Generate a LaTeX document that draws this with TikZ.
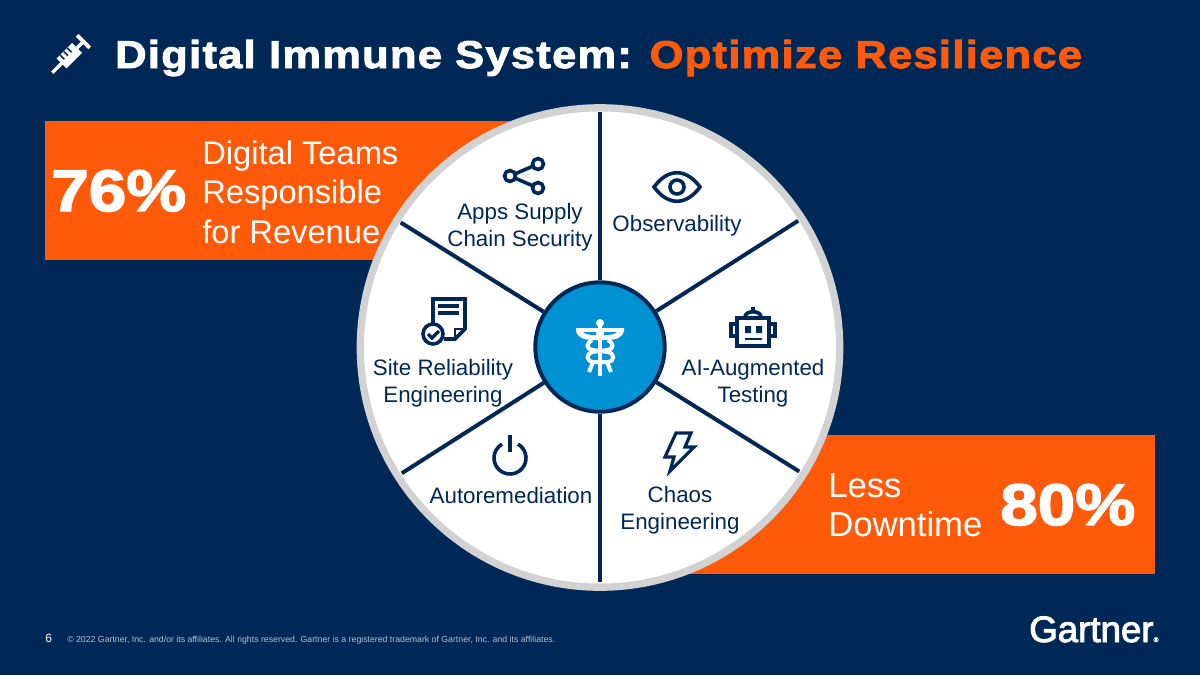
\documentclass[tikz,border=0pt]{standalone}
\usepackage{fontspec}
\usepackage{xcolor}
\setmainfont{Liberation Sans}
\newfontfamily\titlefont[LetterSpace=3.5,BoldFeatures={FakeBold=2.5,FakeStretch=1.12}]{Liberation Sans}
\newfontfamily\statfont[BoldFeatures={FakeBold=2.5,FakeStretch=1.15}]{Liberation Sans}
\newfontfamily\logofont[FakeBold=2.5]{Liberation Sans}
\usetikzlibrary{calc,positioning}
\definecolor{navy}{HTML}{002856}
\definecolor{burnt}{HTML}{FF5A0A}
\definecolor{hubblue}{HTML}{0092D2}
\definecolor{ringgrey}{HTML}{D2D2D2}
\definecolor{footgrey}{HTML}{B4C0CE}
\tikzset{
    orangebox/.style={fill=burnt, inner sep=0pt, minimum height=104.25pt, minimum width=371.25pt},
    stat/.style={text=white, inner sep=0pt, font=\statfont\bfseries\fontsize{44pt}{44pt}\selectfont},
    sidetext/.style={text=white, inner sep=0pt, align=left, font=\fontsize{24.5pt}{29.5pt}\selectfont},
    label/.style={text=navy, inner sep=0pt, align=center, font=\fontsize{16.75pt}{20pt}\selectfont},
    icon/.style={draw=navy, line width=2.7pt, line join=miter},
    spoke/.style={draw=navy, line width=3pt},
    whiteicon/.style={draw=white, line width=3pt}
}
\begin{document}
\begin{tikzpicture}[x=0.75pt, y=-0.75pt]
    \fill[navy] (0,0) rectangle (1200,675); % Slide background

    % Orange banners, the wheel sits on top of them
    \node[orangebox] (topbox) at (292.5,190.5) {};
    \node[orangebox] (lowbox) at (907.5,504.5) {};

    % Wheel
    \node[draw=ringgrey, fill=white, circle, line width=5.5pt, minimum size=359.5pt, inner sep=0pt] (wheel) at (600,347.5) {};
    \node[draw=navy, fill=hubblue, circle, line width=3pt, minimum size=97pt, inner sep=0pt] (hub) at (600,347) {};
    \foreach \i/\a in {1/-90,2/-32.5,3/32,4/90,5/147.5,6/212} {
        \coordinate (rim\i) at ($(hub)+(\a:235)$);
        \draw[spoke] (hub) -- (rim\i);
    }

    % Title
    \node[anchor=base west, inner sep=0pt, text=white, font=\titlefont\bfseries\fontsize{29pt}{29pt}\selectfont] (title) at (115,68) {Digital Immune System: \textcolor{burnt}{Optimize Resilience}};

    % Syringe
    \begin{scope}[shift={(70,55)}, rotate=45]
        \draw[whiteicon, line width=2.6pt] (-25,0) -- (-11,0);
        \fill[white] (-12,-7) rectangle (10,7);
        \draw[whiteicon, line width=2.6pt] (10,0) -- (19,0);
        \draw[whiteicon] (19,-9) -- (19,9);
        \draw[navy, line width=1.2pt] (-7,-7) -- (-7,-1) (-2,-7) -- (-2,-1) (3,-7) -- (3,-1);
    \end{scope}

    % Banner texts
    \node[stat, anchor=base west] (topstat) at (51,211) {76\%};
    \node[sidetext, anchor=west] (toptext) at (202,192) {Digital Teams\\Responsible\\for Revenue};
    \node[sidetext, anchor=west, font=\fontsize{26pt}{29.5pt}\selectfont] (lowtext) at (828,505) {Less\\Downtime};
    \node[stat, anchor=base west] (lowstat) at (1000,525) {80\%};

    % Wheel labels
    \node[label] (apps) at (520,227) {Apps Supply\\Chain Security};
    \node[label] (observ) at (677,226) {Observability};
    \node[label] (testing) at (753,383) {AI-Augmented\\Testing};
    \node[label] (chaos) at (680,510) {Chaos\\Engineering};
    \node[label] (auto) at (511,496) {Autoremediation};
    \node[label] (site) at (443,383) {Site Reliability\\Engineering};

    % Share icon
    \draw[icon] (510,176) -- (538,164) (510,176) -- (538,188);
    \draw[icon, fill=white] (510,176) circle (5.5) (538,164) circle (5.5) (538,188) circle (5.5);

    % Eye icon
    \draw[icon] (654,187) .. controls (668,168) and (686,168) .. (700,187) .. controls (686,206) and (668,206) .. (654,187) -- cycle;
    \draw[icon] (677,187) circle (7);

    % Document icon
    \draw[icon] (433,325) -- (433,299) -- (465,299) -- (465,329) -- (455,339) -- (444,339);
    \draw[icon, line width=2pt] (455,339) -- (455,329) -- (465,329);
    \draw[navy, line width=2.4pt] (438,306) -- (459,306) (438,313) -- (459,313);
    \draw[icon, fill=white] (433,334) circle (10);
    \draw[icon, line width=2.4pt] (428,334) -- (432,338) -- (439,331);

    % Robot icon
    \draw[icon] (737,318) rectangle (769,346);
    \draw[icon] (737,324) -- (731,324) -- (731,336) -- (737,336);
    \draw[icon] (769,324) -- (775,324) -- (775,336) -- (769,336);
    \draw[icon] (745,317) .. controls (745,310) and (761,310) .. (761,317);
    \draw[icon] (753,312) -- (753,307);
    \fill[navy] (745,326) rectangle (751,333) (756,326) rectangle (762,333);
    \draw[icon, line width=1.7pt] (745,339) -- (762,339);

    % Hub emblem
    \draw[whiteicon, line width=3.4pt] (600,323) -- (600,376);
    \fill[white] (600,323) circle (4);
    \fill[white] (576,328) -- (624,328) -- (624,331) .. controls (622,338) and (616,340) .. (606,340) -- (594,340) .. controls (584,340) and (578,338) .. (576,331) -- cycle;
    \fill[hubblue] (583,332) .. controls (586,335) and (592,335) .. (596,335) -- (596,332) -- cycle;
    \fill[hubblue] (617,332) .. controls (614,335) and (608,335) .. (604,335) -- (604,332) -- cycle;
    \draw[whiteicon] (592,340) .. controls (586,343) and (586,349) .. (592,350) -- (608,352) .. controls (615,354) and (615,361) .. (608,362) -- (593,362) .. controls (586,361) and (586,354) .. (592,352) -- (608,350) .. controls (614,349) and (614,343) .. (608,340);
    \draw[whiteicon] (593,362) -- (589,372) (607,362) -- (611,372);

    % Bolt icon
    \draw[icon, line width=2.4pt, miter limit=10] (676,433) -- (691,433) -- (685,447) -- (694,447) -- (670,471) -- (674,457) -- (665,457) -- cycle;

    % Power icon
    \draw[icon] (510,435) -- (510,452);
    \draw[icon] ($(510,458)+(-60:16)$) arc[start angle=-60, end angle=240, radius=16];

    % Footer
    \node[anchor=base west, inner sep=0pt, text=white, font=\fontsize{9pt}{9pt}\selectfont] (pagenum) at (45,642) {6};
    \node[anchor=base west, inner sep=0pt, text=footgrey, font=\fontsize{6.55pt}{7pt}\selectfont] (legal) at (67,642) {© 2022 Gartner, Inc. and/or its affiliates. All rights reserved. Gartner is a registered trademark of Gartner, Inc. and its affiliates.};
    \node[anchor=base west, inner sep=0pt, text=white, font=\logofont\fontsize{27.5pt}{28pt}\selectfont] (logo) at (1029,642) {Gartner{\fontsize{5pt}{5pt}\selectfont ®}};
\end{tikzpicture}
\end{document}
